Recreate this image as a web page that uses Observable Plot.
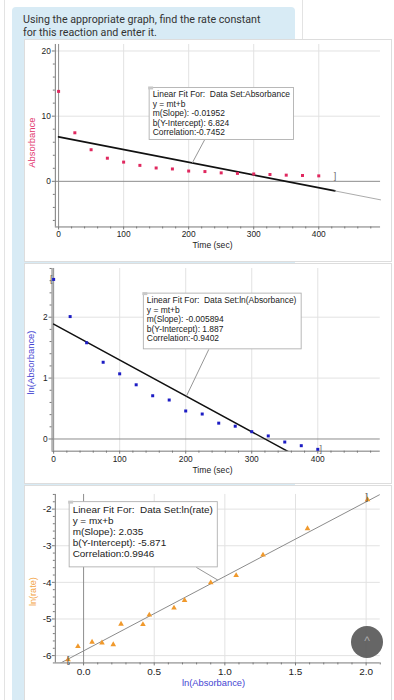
<!DOCTYPE html>
<html><head><meta charset="utf-8">
<script src="https://cdn.jsdelivr.net/npm/d3@7"></script>
<script src="https://cdn.jsdelivr.net/npm/@observablehq/plot@0.6"></script>
<style>
html,body{margin:0;padding:0;}
body{width:394px;height:700px;overflow:hidden;background:#fff;position:relative;font-family:Roboto,sans-serif;}
.vline{position:absolute;background:#e3e3e3;width:1px;}
#blue{position:absolute;left:12px;top:7px;width:283px;height:720px;background:#d8ebf5;border-radius:4px;}
#prompt{position:absolute;left:23px;top:13px;font-size:10.7px;line-height:13px;color:#333;white-space:nowrap;}
.panel{position:absolute;left:24px;width:368px;background:#fff;border:1px solid #ddd;box-sizing:border-box;}
.panel svg{position:absolute;left:-1px;top:-1px;}
#btn{position:absolute;left:351px;top:626px;width:32px;height:32px;border-radius:50%;background:rgba(85,85,85,0.9);color:#aaa;font:12px 'Liberation Sans',Arial,sans-serif;text-align:center;line-height:30px;}
</style></head>
<body>
<div class="vline" style="left:4px;top:0;height:700px"></div>
<div class="vline" style="left:302px;top:0;height:39px"></div>
<div id="blue"></div>
<div id="prompt">Using the appropriate graph, find the rate constant<br>for this reaction and enter it.</div>
<div class="panel" id="p1" style="top:39px;height:223px"></div>
<div class="panel" id="p2" style="top:263px;height:221px"></div>
<div class="panel" id="p3" style="top:485px;height:230px"></div>
<div id="btn">^</div>
<script>
// ---- data ----
const time = [0,25,50,75,100,125,150,175,200,225,250,275,300,325,350,375,400];
const absorbance = [13.8,7.45,4.85,3.55,2.95,2.45,2.05,1.9,1.58,1.5,1.3,1.22,1.13,1.05,0.95,0.9,0.84];
const lnAbsorbance = [2.62,2.01,1.58,1.26,1.07,0.89,0.71,0.64,0.46,0.41,0.26,0.21,0.12,0.05,-0.05,-0.11,-0.17];
const lnAbsForRate = [-0.11,-0.04,0.06,0.13,0.21,0.265,0.42,0.465,0.64,0.715,0.90,1.08,1.27,1.585,2.01];
const lnRate = [-6.11,-5.75,-5.63,-5.65,-5.70,-5.14,-5.15,-4.89,-4.70,-4.49,-4.01,-3.81,-3.25,-2.53,-1.74];
const fitSlopes = [-0.01952, -0.005894, 2.035];
const fitIntercepts = [6.824, 1.887, -5.871];
const fitCorrelations = [-0.7452, -0.9402, 0.9946];
const fitDataSets = ["Absorbance", "ln(Absorbance)", "ln(rate)"];
const fitEquations = ["y = mt+b", "y = mt+b", "y = mx+b"];
const timeTicks = [0,100,200,300,400];
const absTicks = [0,10,20];
const lnAbsTicks = [0,1,2];
const lnAbsXTicks = [0,0.5,1,1.5,2];
const lnRateTicks = [-6,-5,-4,-3,-2];
const axisTitles = ["Absorbance", "Time (sec)", "ln(Absorbance)", "Time (sec)", "ln(rate)", "ln(Absorbance)"];

// ---- helpers ----
const FONT = "'Liberation Sans', Arial, sans-serif";
const GRID = "#e2e2e2", ZERO = "#8c8c8c", AXIS = "#777", TXT = "#222";
const fitText = i => `Linear Fit For:\u00a0 Data Set:${fitDataSets[i]}\n${fitEquations[i]}\nm(Slope): ${fitSlopes[i]}\nb(Y-Intercept): ${fitIntercepts[i]}\nCorrelation:${fitCorrelations[i]}`;
const fit = i => v => fitSlopes[i] * v + fitIntercepts[i];
const minorOf = (lo, hi, step, majors) => d3.range(lo, hi + step / 2, step).map(v => +v.toFixed(4)).filter(v => !majors.some(m => Math.abs(m - v) < 1e-6));

function frameMarks(xd, yd, xMaj, yMaj, xMin, yMin, fs, xPad, yPad, xFmt, yFmt) {
  return [
    Plot.ruleX(xMaj.filter(d => d !== 0), {stroke: GRID}),
    Plot.ruleY(yMaj.filter(d => d !== 0), {stroke: GRID}),
    Plot.ruleX([0], {stroke: ZERO}),
    Plot.ruleY(yd[0] < 0 && yd[1] > 0 ? [0] : [], {stroke: ZERO}),
    Plot.ruleX([xd[0]], {stroke: AXIS}),
    Plot.ruleY([yd[0]], {stroke: AXIS}),
    Plot.axisX(xMin, {tickSize: 2, tickFormat: () => "", stroke: AXIS, label: null}),
    Plot.axisX(xMaj, {tickSize: 3, tickPadding: xPad, fontSize: fs, fill: TXT, stroke: AXIS, label: null, tickFormat: xFmt}),
    Plot.axisY(yMin, {tickSize: 2, tickFormat: () => "", stroke: AXIS, label: null}),
    Plot.axisY(yMaj, {tickSize: 3, tickPadding: yPad, fontSize: fs, fill: TXT, stroke: AXIS, label: null, tickFormat: yFmt})
  ];
}
function annotation(i, box, leader, fs, lh) {
  return [
    Plot.link([leader], {x1: d => d[0], y1: d => d[1], x2: d => d[2], y2: d => fit(i)(d[2]), stroke: "#8a8a8a", strokeWidth: 0.9}),
    Plot.rect([box], {x1: d => d[0], x2: d => d[1], y1: d => d[2], y2: d => d[3], fill: "white", stroke: "#b0b0b0", strokeWidth: 0.9}),
    Plot.rect([box], {x1: d => d[0], x2: d => d[0], y1: d => d[3], y2: d => d[3], insetLeft: -1, insetRight: -4, insetTop: -1, insetBottom: -2, fill: "#c8c8c8"}),
    Plot.text([box], {x: d => d[0], y: d => d[3], text: () => fitText(i), textAnchor: "start", lineAnchor: "top", dx: 3, dy: 2.5, fontSize: fs, lineHeight: lh, fill: TXT})
  ];
}
function yTitle(t, dx, dy, fs, color) {
  return Plot.text([t], {frameAnchor: "left", rotate: -90, textAnchor: "middle", lineAnchor: "middle", dx, dy, fontSize: fs, fill: color});
}
function xTitle(t, dx, dy, fs, color) {
  return Plot.text([t], {frameAnchor: "bottom", textAnchor: "middle", lineAnchor: "middle", dx, dy, fontSize: fs, fill: color});
}
const style = {background: "transparent", overflow: "visible", fontFamily: FONT};

// ---- chart 1: Absorbance vs time ----
const t1 = time.map((t, i) => ({t, v: absorbance[i]}));
const xd1 = [-5, 495], yd1 = [-7, 21];
const p1 = Plot.plot({
  width: 368, height: 223, marginLeft: 31, marginRight: 10, marginTop: 5, marginBottom: 34.5,
  x: {domain: xd1, axis: null, label: null}, y: {domain: yd1, axis: null, label: null}, style,
  marks: [
    ...frameMarks(xd1, yd1, timeTicks, absTicks, minorOf(20, 480, 20, timeTicks), minorOf(-6, 20, 2, absTicks), 8.4, 1.5, 1.5, d => String(d), d => String(d)),
    Plot.line([0, 425], {x: d => d, y: fit(0), stroke: "#111", strokeWidth: 1.7}),
    Plot.line([425, 495], {x: d => d, y: fit(0), stroke: "#aaa", strokeWidth: 1}),
    ...annotation(0, [140, 362, 6.35, 14.33], [224.4, 6.35, 205.5], 8.5, 1.12),
    Plot.dot(t1, {x: "t", y: "v", symbol: "square", r: 1.7, fill: "#e0285f"}),
    Plot.text(["]"], {x: 425, y: absorbance[absorbance.length - 1], fontSize: 9, fill: "#666"}),
    yTitle(axisTitles[0], -23.3, 7, 9.5, "#e2356d"),
    xTitle(axisTitles[1], -5.5, 18.5, 8.6, TXT)
  ]
});
document.getElementById("p1").append(p1);

// ---- chart 2: ln(Absorbance) vs time ----
const t2 = time.map((t, i) => ({t, v: lnAbsorbance[i]}));
const xd2 = [-2.4, 494.6], yd2 = [-0.2, 2.8];
const p2 = Plot.plot({
  width: 368, height: 221, marginLeft: 27.7, marginRight: 10.3, marginTop: 5, marginBottom: 32.3,
  x: {domain: xd2, axis: null, label: null}, y: {domain: yd2, axis: null, label: null}, style,
  marks: [
    ...frameMarks(xd2, yd2, timeTicks, lnAbsTicks, minorOf(20, 480, 20, timeTicks), minorOf(0, 2.8, 0.2, lnAbsTicks), 8.4, 1.5, 1.5, d => String(d), d => String(d)),
    Plot.line([0, 400], {x: d => d, y: fit(1), stroke: "#111", strokeWidth: 1.5, clip: true}),
    ...annotation(1, [136.6, 375.6, 1.472, 2.387], [235, 1.472, 201], 8.5, 1.14),
    Plot.dot(t2, {x: "t", y: "v", symbol: "square", r: 1.7, fill: "#1c1cc4"}),
    Plot.text([t2[0]], {x: "t", y: "v", text: () => "[", dx: -2.5, fontSize: 9, fill: "#666"}),
    Plot.text([t2[t2.length - 1]], {x: "t", y: "v", text: () => "]", dx: 3, fontSize: 9, fill: "#666"}),
    yTitle(axisTitles[2], -21, 2.7, 9.5, "#4545d2"),
    xTitle(axisTitles[3], -3.7, 19.3, 8.6, TXT)
  ]
});
document.getElementById("p2").append(p2);

// ---- chart 3: ln(rate) vs ln(Absorbance) ----
const t3 = lnAbsForRate.map((x, i) => ({x, v: lnRate[i]}));
const xd3 = [-0.2, 2.1], yd3 = [-6.2, -1.6];
const p3 = Plot.plot({
  width: 368, height: 215, marginLeft: 31, marginRight: 10.3, marginTop: 9, marginBottom: 36.6,
  x: {domain: xd3, axis: null, label: null}, y: {domain: yd3, axis: null, label: null}, style,
  marks: [
    ...frameMarks(xd3, yd3, lnAbsXTicks, lnRateTicks, minorOf(-0.1, 2.1, 0.1, lnAbsXTicks), minorOf(-6.2, -1.6, 0.2, lnRateTicks), 10, 2.5, 0.8, d => d.toFixed(1), d => String(d)),
    Plot.line(xd3, {x: d => d, y: fit(2), stroke: "#8a8a8a", strokeWidth: 1, clip: true}),
    ...annotation(2, [-0.0986, 0.950, -3.591, -1.81], [0.798, -3.591, 0.95], 10, 1.12),
    Plot.dot(t3, {x: "x", y: "v", symbol: "triangle", r: 2.1, fill: "#f0992c"}),
    Plot.text([t3[0]], {x: "x", y: "v", text: () => "[", dx: 0, fontSize: 10, fill: "#555"}),
    Plot.text([t3[t3.length - 1]], {x: "x", y: "v", text: () => "]", dx: -1, dy: -3, fontSize: 10, fill: "#555"}),
    yTitle(axisTitles[4], -22.7, 13, 9.2, "#f3a445"),
    xTitle(axisTitles[5], -4.3, 20.6, 9.4, "#4545d2")
  ]
});
document.getElementById("p3").append(p3);
</script>
</body></html>
